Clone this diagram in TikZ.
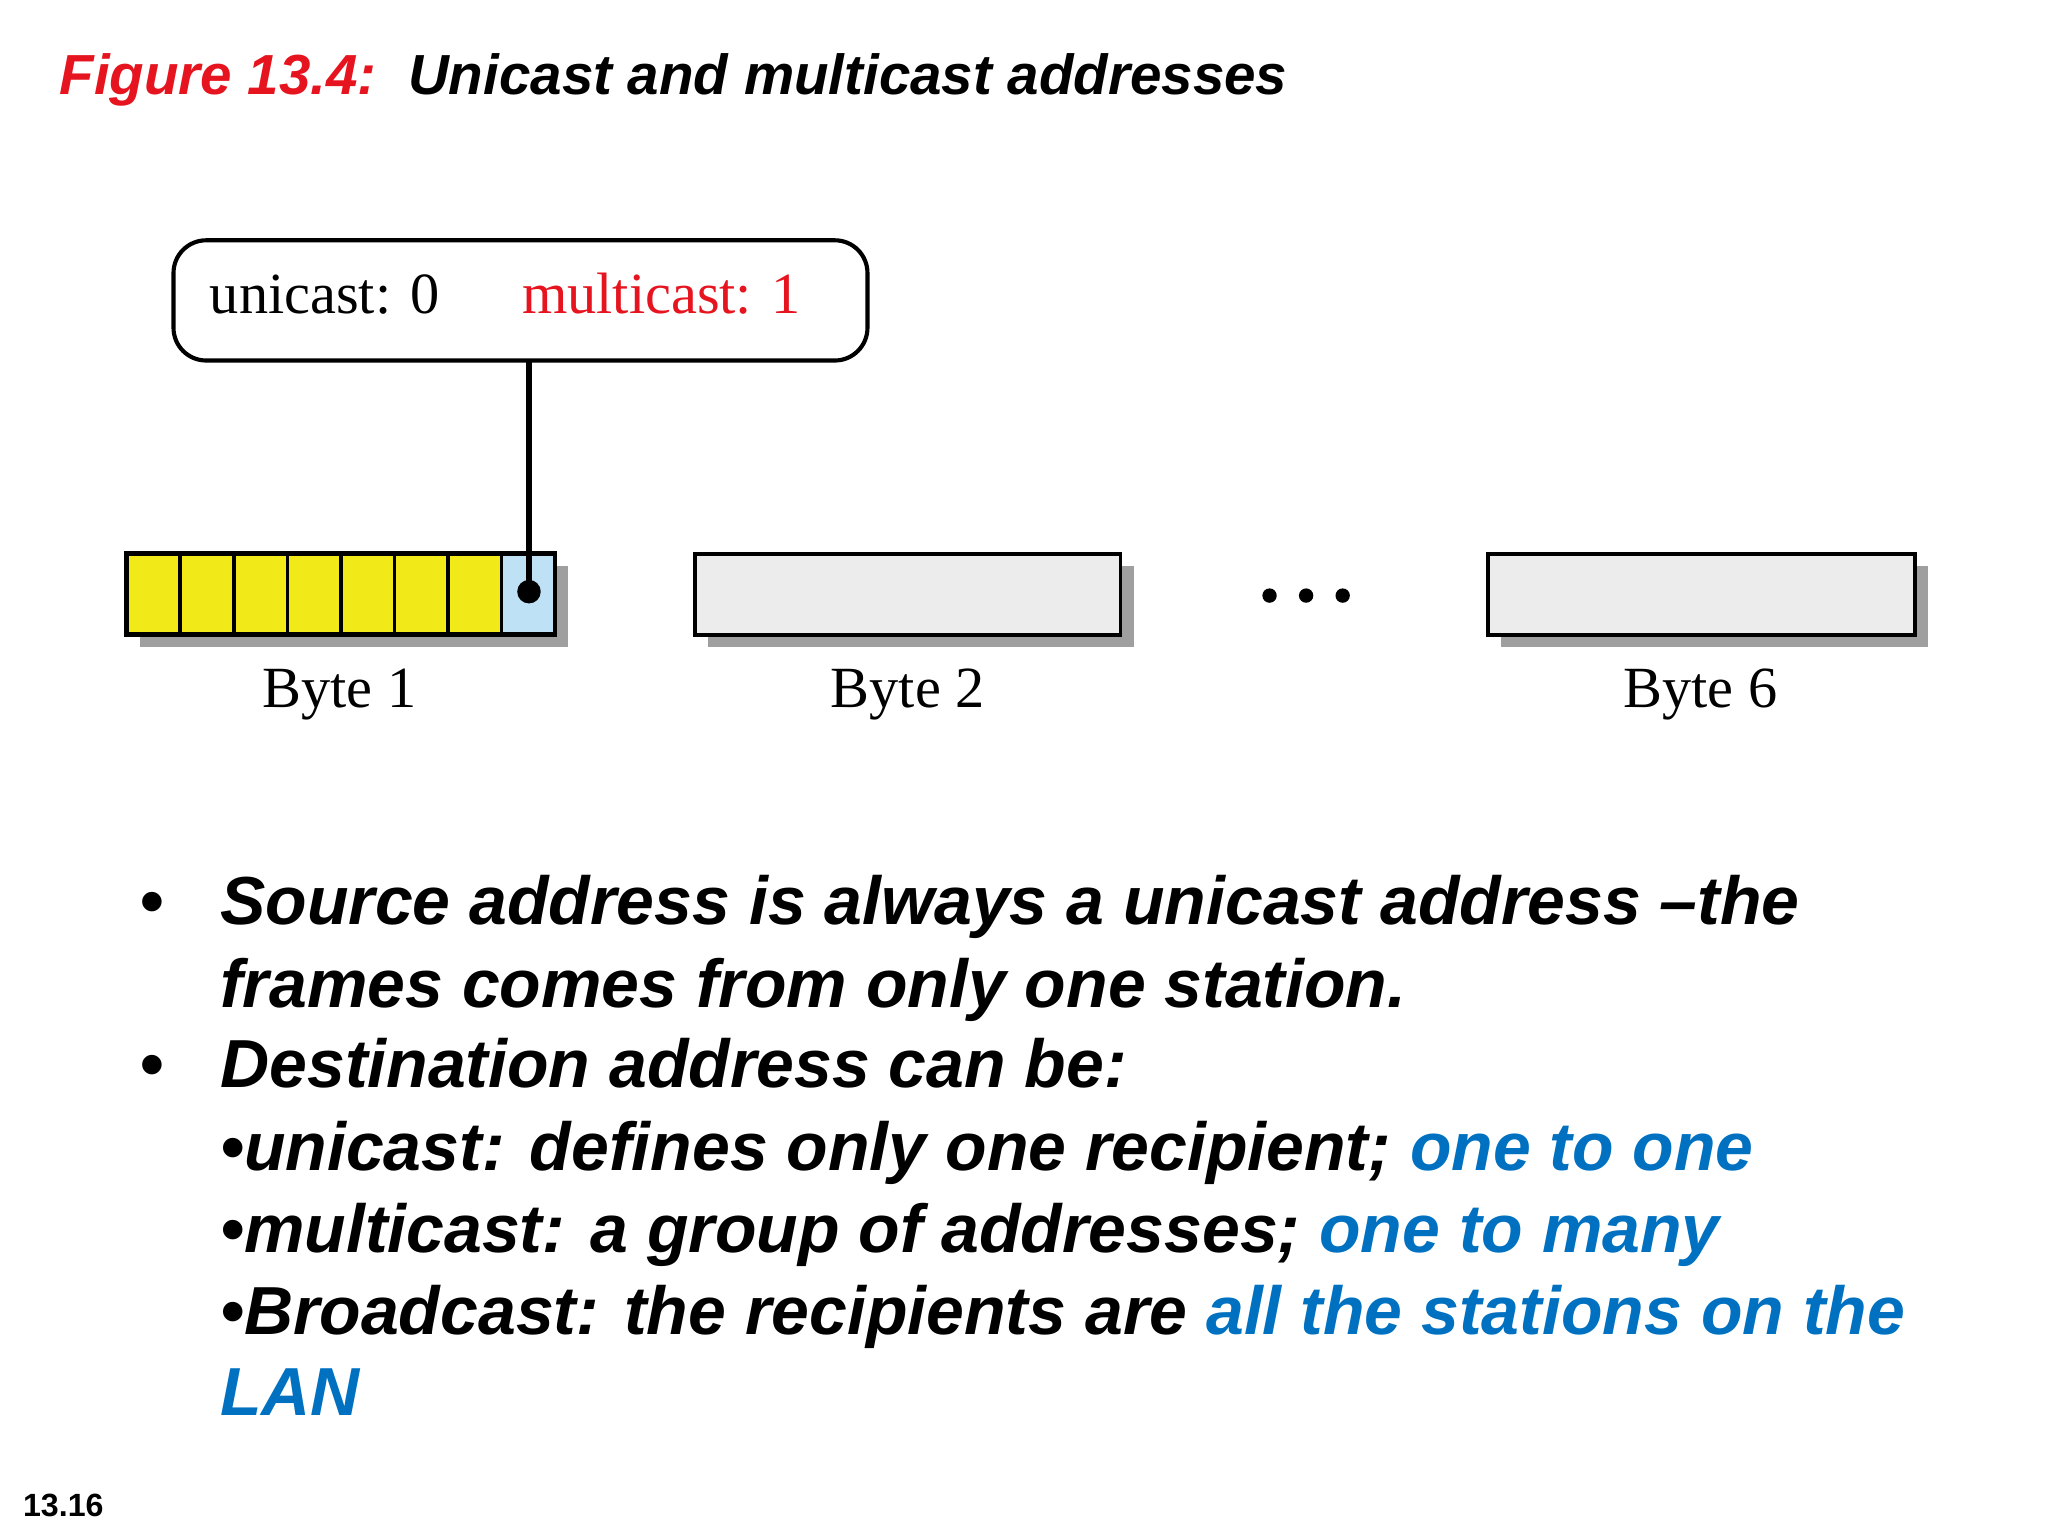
\documentclass[tikz,border=0pt]{standalone}
\usepackage{fontspec}
\setmainfont{Liberation Serif}
\setsansfont{Liberation Sans}
\begin{document}
\begin{tikzpicture}[x=0.01cm,y=-0.01cm,
  bytebox/.style={draw=black,line width=0.8pt,fill=gray!15},
  lbl/.style={font=\fontsize{12.7}{14}\selectfont,inner sep=0},
  bl/.style={font=\sffamily\bfseries\itshape\fontsize{14.8}{17}\selectfont,anchor=base west,inner sep=0},
  bu/.style={font=\sffamily\bfseries\fontsize{14.8}{17}\selectfont,anchor=base,inner sep=0}]
\definecolor{tred}{RGB}{230,20,30}
\definecolor{tblue}{RGB}{0,112,192}
\definecolor{cyel}{RGB}{242,234,24}
\definecolor{cblue}{RGB}{190,225,245}
\useasboundingbox (0,0) rectangle (1568,1176);
\node[anchor=base west,inner sep=0,font=\sffamily\bfseries\itshape\fontsize{12.3}{14}\selectfont] (title) at (45,72) {\textcolor{tred}{Figure 13.4:}\ \ Unicast and multicast addresses};
% callout
\node[draw,line width=0.9pt,rounded corners=0.25cm,minimum width=5.31cm,minimum height=0.92cm,inner sep=0] (call) at (398.5,230) {};
\coordinate (ctop) at (405,276);
\node[lbl,anchor=base west] (uni) at (160,240) {unicast: 0};
\node[lbl,anchor=base west,text=tred] (multi) at (399,240) {multicast: 1};
% shadows
\fill[gray!75] (107,433) rectangle (435,495);
\fill[gray!75] (542,433) rectangle (868,495);
\fill[gray!75] (1149,433) rectangle (1476,495);
% byte 1
\foreach \i in {0,...,6}{\draw[line width=0.8pt,fill=cyel] ({97+41*\i},424) rectangle ({97+41*(\i+1)},486);}
\draw[line width=0.8pt,fill=cblue] (384,424) rectangle (425,486);
\draw[line width=1pt] (97,424) rectangle (425,486);
\node[circle,fill=black,inner sep=0,minimum size=0.18cm] (dot) at (405,453) {};
\draw[line width=1.3pt] (ctop) -- (dot.center);
\draw[bytebox] (532,424) rectangle (858,486);
\draw[bytebox] (1139,424) rectangle (1466,486);
\foreach \x in {972,1000,1028}{\fill (\x,456) circle (0.055cm);}
\node[lbl] (b1) at (260,532) {Byte 1};
\node[lbl] (b2) at (695,532) {Byte 2};
\node[lbl] (b6) at (1302,532) {Byte 6};
% bullets
\node[bu] (d1) at (117,708) {•};
\node[bu] (d2) at (117,833) {•};
\node[bl] (l1) at (168,708) {Source address is always a unicast address –the};
\node[bl] (l2) at (168,771) {frames comes from only one station.};
\node[bl] (l3) at (168,833) {Destination address can be:};
\node[bl] (l4) at (168,896) {•unicast: defines only one recipient; \textcolor{tblue}{one to one}};
\node[bl] (l5) at (168,959) {•multicast: a group of addresses; \textcolor{tblue}{one to many}};
\node[bl] (l6) at (168,1022) {•Broadcast: the recipients are \textcolor{tblue}{all the stations on the}};
\node[bl,text=tblue] (l7) at (168,1084) {LAN};
\node[anchor=base west,inner sep=0,font=\sffamily\bfseries\fontsize{7}{8}\selectfont] (foot) at (17,1161) {13.16};
\end{tikzpicture}
\end{document}
